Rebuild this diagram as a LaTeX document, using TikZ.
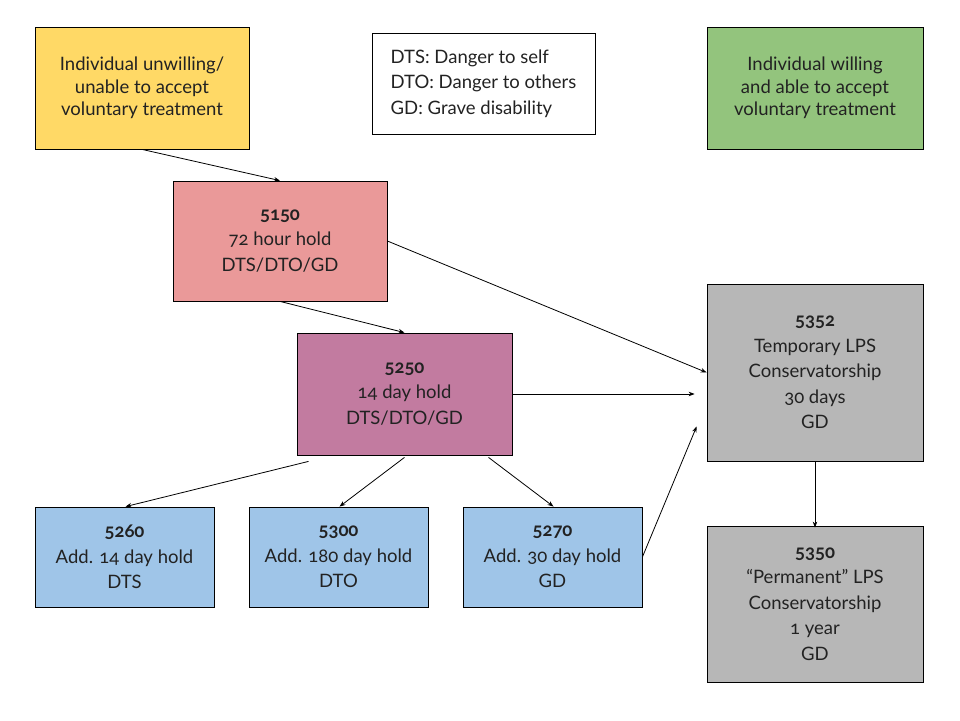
\documentclass[tikz,border=0pt]{standalone}
\usepackage{fontspec}
\setmainfont{Lato}[Numbers=OldStyle]
\usetikzlibrary{arrows.meta}
\definecolor{cyellow}{HTML}{FFD966}
\definecolor{cgreen}{HTML}{93C47D}
\definecolor{cred}{HTML}{EA9999}
\definecolor{cpurple}{HTML}{C27BA0}
\definecolor{cgray}{HTML}{B7B7B7}
\definecolor{cblue}{HTML}{9FC5E8}
\definecolor{ctext}{HTML}{222222}
\tikzset{
  box/.style={draw=black, line width=0.8pt, align=center, inner sep=0pt,
    text=ctext, font=\fontsize{18.5}{25.5}\selectfont},
  tight/.style={font=\fontsize{18.5}{22.5}\selectfont},
  conn/.style={draw=black, line width=0.8pt, -{Stealth[length=6pt,width=4.5pt]}},
}
\begin{document}
\begin{tikzpicture}[x=1pt,y=-1pt]
\useasboundingbox (0,0) rectangle (960,720);
\node[box, tight, fill=cyellow, minimum width=214pt, minimum height=122pt] (yel) at (142,88)
  {Individual unwilling/\\unable to accept\\voluntary treatment};
\node[box, fill=white, minimum width=223pt, minimum height=101pt, align=left] (leg) at (483.5,83.5)
  {DTS: Danger to self\\DTO: Danger to others\\GD: Grave disability};
\node[box, tight, fill=cgreen, minimum width=216pt, minimum height=122pt] (grn) at (815,88)
  {Individual willing\\and able to accept\\voluntary treatment};
\node[box, fill=cred, minimum width=214pt, minimum height=120pt] (a5150) at (280,241)
  {\textbf{5150}\\72 hour hold\\DTS/DTO/GD};
\node[box, fill=cpurple, minimum width=215pt, minimum height=122pt] (a5250) at (404.5,394)
  {\textbf{5250}\\14 day hold\\DTS/DTO/GD};
\node[box, fill=cgray, minimum width=216pt, minimum height=177pt] (a5352) at (815,372.5)
  {\textbf{5352}\\Temporary LPS\\Conservatorship\\30 days\\GD};
\node[box, fill=cgray, minimum width=216pt, minimum height=156pt] (a5350) at (815,604)
  {\textbf{5350}\\``Permanent'' LPS\\Conservatorship\\1 year\\GD};
\node[box, fill=cblue, minimum width=179pt, minimum height=100pt] (a5260) at (124.5,557)
  {\textbf{5260}\\Add. 14 day hold\\DTS};
\node[box, fill=cblue, minimum width=179pt, minimum height=100pt] (a5300) at (338.5,557)
  {\textbf{5300}\\Add. 180 day hold\\DTO};
\node[box, fill=cblue, minimum width=179pt, minimum height=100pt] (a5270) at (552.5,557)
  {\textbf{5270}\\Add. 30 day hold\\GD};
\coordinate (s1) at ([xshift=-96pt,yshift=-6pt]a5250.south);
\coordinate (s2) at ([xshift=84pt,yshift=-2pt]a5250.south);
\coordinate (e1) at ([xshift=-12pt]a5352.west |- a5250.east);
\coordinate (e2) at ([xshift=-10pt,yshift=-54pt]a5352.west);
\draw[conn] (yel.south) -- (a5150.north);
\draw[conn] (a5150.east) -- (a5352.west);
\draw[conn] (a5150.south) -- (a5250.north);
\draw[conn] (a5250.east) -- (e1);
\draw[conn] (s1) -- ([xshift=1pt]a5260.north);
\draw[conn] ([yshift=-2pt]a5250.south) -- ([xshift=1pt]a5300.north);
\draw[conn] (s2) -- ([xshift=1pt]a5270.north);
\draw[conn] (a5270.east) -- (e2);
\draw[conn] (a5352.south) -- ([yshift=-2pt]a5350.north);
\end{tikzpicture}
\end{document}
